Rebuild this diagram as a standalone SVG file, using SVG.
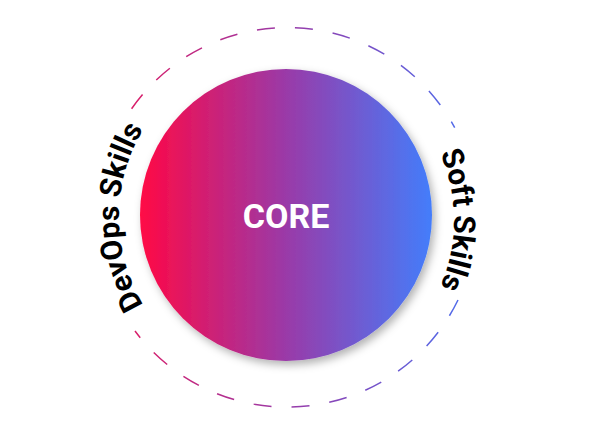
<svg xmlns="http://www.w3.org/2000/svg" width="603" height="440" viewBox="0 0 603 440">
<defs>
<linearGradient id="g" x1="0" y1="0" x2="1" y2="0"><stop offset="0" stop-color="#ff0845"/><stop offset="0.5" stop-color="#9a3aa8"/><stop offset="1" stop-color="#437dfb"/></linearGradient>
<linearGradient id="gs" gradientUnits="userSpaceOnUse" x1="96" y1="0" x2="476" y2="0"><stop offset="0" stop-color="#e8175a"/><stop offset="0.5" stop-color="#9a3aa8"/><stop offset="1" stop-color="#4a70f0"/></linearGradient>
<filter id="sh" x="-20%" y="-20%" width="140%" height="140%"><feDropShadow dx="3" dy="4" stdDeviation="4" flood-color="#000" flood-opacity="0.3"/></filter>
<path id="lt" d="M289,387 A170,170 0 0 1 289,47"/>
<path id="rt" d="M286,52 A168,168 0 0 1 286,388"/>
<style>.lbl{font-family:Roboto,"Liberation Sans",sans-serif;font-weight:bold;font-size:30px;fill:#000}.d{fill:none;stroke:url(#gs);stroke-width:1.5;stroke-dasharray:18 20}</style>
</defs>
<rect width="603" height="440" fill="#fff"/>
<g id="connectors">
<path class="d" d="M131.6,108.7 A190,190 0 0 1 454.7,127.7"/>
<path class="d" d="M458,300 A190,190 0 0 1 135,331"/>
</g>
<g id="core">
<circle cx="286" cy="215" r="146" fill="url(#g)" filter="url(#sh)"/>
<text x="286" y="228" text-anchor="middle" font-family="Roboto,'Liberation Sans',sans-serif" font-weight="bold" font-size="34" fill="#fff">CORE</text>
</g>
<g id="devops"><text class="lbl"><textPath href="#lt" startOffset="50%" text-anchor="middle">DevOps Skills</textPath></text></g>
<g id="soft"><text class="lbl"><textPath href="#rt" startOffset="50%" text-anchor="middle">Soft Skills</textPath></text></g>
</svg>
